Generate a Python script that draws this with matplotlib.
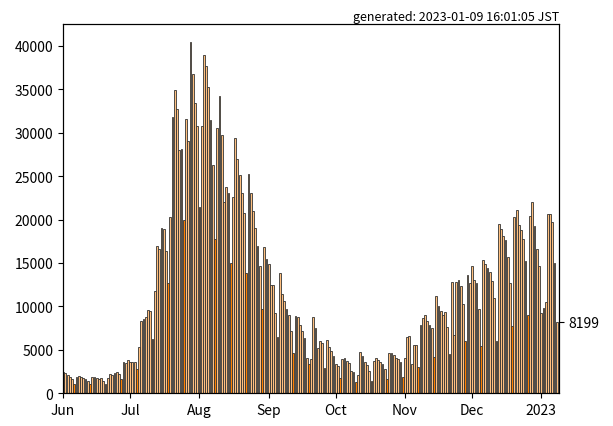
import datetime as dt
import matplotlib
matplotlib.use("Agg")
import matplotlib.pyplot as plt
import matplotlib.dates as mdates

plt.rcParams['font.family'] = ['Noto Sans CJK JP', 'DejaVu Sans']

start = dt.date(2022, 6, 1)
cases = [
    2400, 2300, 2100, 1900, 1600, 1100, 1900,
    2000, 1800, 1700, 1600, 1400, 1000, 1800,
    1900, 1700, 1600, 1700, 1400, 1000, 1700,
    2200, 2100, 2300, 2400, 2200, 1600, 3600,
    3500, 3800, 3600, 3600, 3600, 2800, 5300,
    8300, 8500, 8800, 9600, 9500, 6200, 11800,
    16900, 16600, 19000, 18900, 16400, 12700, 20300,
    31800, 34900, 32700, 28000, 28100, 20000, 31600,
    29000, 40400, 36800, 33400, 30800, 21400, 30800,
    38900, 37700, 35300, 31500, 26300, 17800, 30500,
    34200, 29700, 22000, 23700, 23000, 15000, 22600,
    29400, 27000, 25100, 23100, 20800, 13800, 25300,
    23100, 21000, 19000, 17000, 14700, 9700, 16800,
    15400, 14900, 12400, 12500, 9200, 6500, 13800,
    11400, 10600, 9700, 9000, 7100, 4600, 8900,
    8800, 7800, 7100, 6300, 4100, 3300, 3900,
    8800, 7500, 5200, 6000, 5800, 2900, 6100,
    5300, 4900, 4300, 3400, 3100, 1700, 3900,
    4100, 3700, 3500, 2600, 2400, 1300, 2100,
    4700, 4300, 3600, 3200, 2600, 1400, 3700,
    4000, 3800, 3600, 3300, 2800, 1600, 4600,
    4600, 4400, 4000, 3900, 3600, 1800, 4000,
    6500, 6600, 3300, 5500, 5500, 3000, 7900,
    8600, 9000, 8300, 7800, 7500, 4200, 11200,
    10000, 9500, 9000, 9400, 7600, 4500, 12800,
    6700, 12800, 13000, 12300, 10300, 6000, 13600,
    12700, 14600, 13000, 12700, 9700, 5400, 15300,
    14900, 14400, 13900, 12900, 11000, 6000, 19500,
    18900, 18100, 17600, 15700, 12700, 7700, 20300,
    21100, 19400, 18800, 17700, 15200, 9000, 20400,
    22000, 19300, 16600, 14700, 9200, 9800, 10500,
    20600, 20600, 19700, 15000, 8199,
]
latest = 8199

dates = [start + dt.timedelta(days=i) for i in range(len(cases))]
colors = ['#ff8000' if d.weekday() == 0 else '#ffc080' for d in dates]

fig, ax = plt.subplots(figsize=(6.13, 4.27), dpi=100)
fig.subplots_adjust(left=0.103, right=0.912, top=0.941, bottom=0.077)
ax.bar(dates, cases, width=0.8, color=colors, edgecolor='#333333', linewidth=0.6)

ax.set_xlim(mdates.date2num(start), mdates.date2num(dt.date(2023, 1, 9)))
ax.set_ylim(0, 42500)
ax.xaxis.set_major_locator(mdates.MonthLocator())
ax.xaxis.set_major_formatter(mdates.ConciseDateFormatter(ax.xaxis.get_major_locator(),
                                                         formats=['%Y', '%b', '%d', '%H:%M', '%H:%M', '%S.%f'],
                                                         offset_formats=['', '', '', '', '', '']))
ax.set_yticks(range(0, 40001, 5000))

ax2 = ax.twinx()
ax2.set_ylim(ax.get_ylim())
ax2.set_yticks([latest])

ax.set_title("generated: 2023-01-09 16:01:05 JST", loc='right', fontsize=9, pad=3)
fig.savefig("out.png", dpi=100)
